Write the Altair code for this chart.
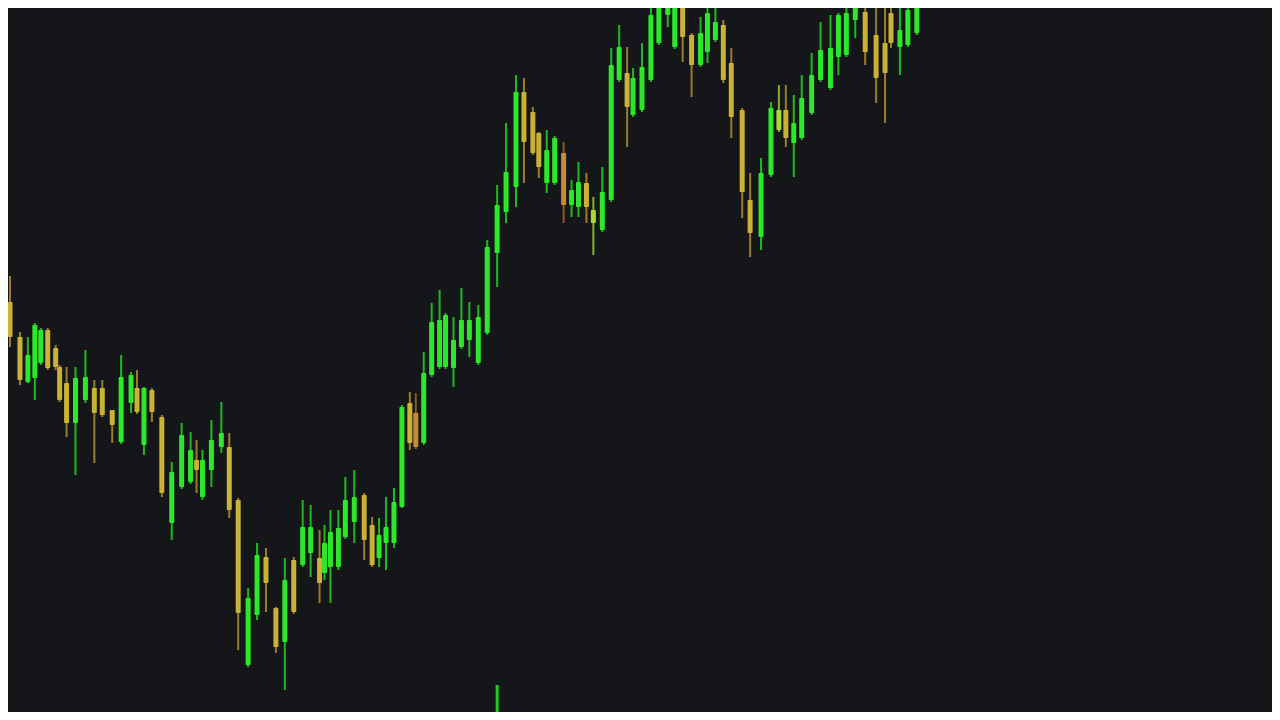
import altair as alt
import pandas as pd

# time position of each candle, 8 per row
t = [5, 15, 23, 30, 36, 43, 51, 55,
     62, 71, 81, 90, 98, 108, 117, 127,
     133, 140, 148, 158, 168, 178, 187, 193,
     199, 208, 218, 226, 235, 245, 254, 263,
     273, 282, 291, 300, 308, 317, 322, 328,
     336, 343, 352, 362, 370, 377, 384, 392,
     400, 408, 414, 422, 430, 438, 444, 452,
     460, 468, 477, 486, 496, 505, 515, 523,
     532, 538, 546, 554, 563, 571, 578, 586,
     593, 602, 611, 619, 627, 633, 642, 651,
     659, 668, 675, 683, 692, 701, 708, 716,
     724, 732, 743, 751, 762, 772, 780, 787,
     795, 803, 813, 822, 832, 840, 848, 857,
     867, 878, 887, 893, 902, 910, 919, 927]

open_ = [418, 383, 338, 342, 357, 390, 372, 353,
         337, 297, 320, 332, 332, 310, 278, 317,
         332, 275, 330, 303, 197, 233, 238, 260,
         223, 250, 273, 273, 220, 55, 105, 163,
         112, 78, 160, 155, 167, 162, 147, 153,
         153, 183, 198, 225, 195, 162, 177, 177,
         213, 317, 307, 277, 345, 353, 353, 352,
         373, 380, 357, 387, 467, 508, 533, 628,
         608, 587, 537, 537, 567, 515, 513, 537,
         510, 490, 520, 640, 647, 605, 610, 640,
         677, 705, 673, 717, 685, 655, 668, 680,
         695, 657, 610, 520, 483, 545, 590, 610,
         577, 582, 607, 640, 632, 663, 665, 700,
         708, 685, 677, 707, 673, 675, 687, 717]

close = [383, 340, 365, 395, 390, 352, 353, 320,
         297, 342, 343, 307, 305, 295, 343, 345,
         308, 332, 308, 227, 248, 285, 270, 250,
         260, 280, 287, 210, 107, 122, 165, 137,
         73, 140, 108, 193, 193, 137, 177, 188,
         192, 220, 223, 180, 155, 185, 193, 218,
         313, 277, 273, 347, 398, 400, 405, 380,
         400, 400, 403, 473, 515, 548, 628, 578,
         567, 553, 570, 582, 515, 530, 538, 513,
         497, 528, 655, 673, 613, 642, 653, 705,
         720, 722, 720, 683, 655, 687, 707, 698,
         640, 603, 528, 487, 547, 612, 610, 582,
         597, 622, 645, 670, 672, 705, 707, 722,
         668, 642, 647, 677, 690, 710, 722, 722]

high = [444, 388, 383, 397, 392, 392, 375, 355,
        353, 353, 370, 340, 340, 310, 365, 348,
        350, 333, 332, 305, 258, 297, 288, 280,
        270, 300, 318, 287, 222, 132, 177, 172,
        113, 162, 163, 220, 215, 190, 195, 210,
        210, 243, 250, 227, 203, 202, 223, 232,
        315, 328, 327, 368, 417, 430, 407, 403,
        432, 418, 415, 480, 535, 597, 645, 642,
        613, 588, 590, 584, 578, 540, 558, 547,
        523, 553, 672, 695, 673, 652, 677, 712,
        725, 725, 725, 725, 687, 703, 715, 725,
        700, 672, 612, 547, 562, 618, 635, 635,
        625, 645, 667, 698, 705, 707, 725, 725,
        725, 712, 713, 725, 713, 725, 725, 725]

low = [373, 335, 337, 320, 355, 350, 350, 318,
       283, 245, 317, 257, 303, 277, 276, 307,
       306, 265, 298, 223, 180, 231, 236, 227,
       220, 233, 267, 202, 70, 53, 100, 108,
       67, 30, 106, 153, 143, 117, 140, 117,
       150, 181, 177, 160, 153, 153, 150, 172,
       212, 270, 271, 275, 343, 351, 351, 333,
       371, 363, 355, 385, 433, 497, 513, 537,
       565, 542, 527, 535, 497, 503, 503, 497,
       465, 488, 518, 638, 573, 603, 608, 638,
       675, 693, 671, 658, 623, 653, 657, 678,
       637, 582, 502, 463, 470, 543, 588, 573,
       543, 580, 605, 638, 630, 645, 663, 682,
       655, 617, 597, 672, 645, 673, 685, 715]

# candle tone: G = green, Y = yellow, O = orange, L = lime
tone = ["Y", "Y", "G", "G", "G", "Y", "Y", "Y",
        "Y", "G", "G", "Y", "Y", "Y", "G", "G",
        "Y", "G", "Y", "Y", "G", "G", "G", "Y",
        "G", "G", "G", "Y", "Y", "G", "G", "Y",
        "Y", "G", "Y", "G", "G", "Y", "G", "G",
        "G", "G", "G", "Y", "Y", "G", "G", "G",
        "G", "Y", "O", "G", "G", "G", "G", "G",
        "G", "G", "G", "G", "G", "G", "G", "Y",
        "Y", "Y", "G", "G", "O", "G", "G", "Y",
        "L", "G", "G", "G", "Y", "G", "G", "G",
        "G", "G", "G", "Y", "Y", "G", "G", "G",
        "Y", "Y", "Y", "Y", "G", "G", "L", "Y",
        "G", "G", "G", "G", "G", "G", "G", "G",
        "Y", "Y", "Y", "Y", "G", "G", "G", "G"]

# volume bar that shows at the bottom edge
vol_t = [496]
vol = [35]

df = pd.DataFrame({"t": t, "open": open_, "close": close, "high": high,
                   "low": low, "tone": tone})
dv = pd.DataFrame({"t": vol_t, "vol": vol})

xs = alt.Scale(domain=[8, 1272])
ys = alt.Scale(domain=[8, 712])
tones = ["G", "Y", "O", "L"]

wick = alt.Chart(df).mark_rule(strokeWidth=2, clip=True).encode(
    x=alt.X("t:Q", scale=xs, axis=None),
    y=alt.Y("low:Q", scale=ys, axis=None),
    y2="high:Q",
    color=alt.Color("tone:N", legend=None,
                    scale=alt.Scale(domain=tones,
                                    range=["#1fb81f", "#9a7d2c", "#8c5a26", "#86b02c"])),
)

body = alt.Chart(df).mark_bar(size=5, clip=True, cornerRadius=1).encode(
    x=alt.X("t:Q", scale=xs, axis=None),
    y=alt.Y("open:Q", scale=ys, axis=None),
    y2="close:Q",
    color=alt.Color("tone:N", legend=None,
                    scale=alt.Scale(domain=tones,
                                    range=["#2be82b", "#c9b236", "#c98a36", "#a6d83a"])),
)

volume = alt.Chart(dv).mark_rule(strokeWidth=3, clip=True, color="#22c922").encode(
    x=alt.X("t:Q", scale=xs, axis=None),
    y=alt.Y("vol:Q", scale=ys, axis=None),
    y2=alt.datum(0),
)

chart = alt.layer(wick, body, volume).resolve_scale(color="independent").properties(
    width=1264, height=704, padding=0, background="#141619"
).configure_view(stroke=None, fill="#141619")

chart.save("out.html", embed_options={"renderer": "svg", "actions": False})
